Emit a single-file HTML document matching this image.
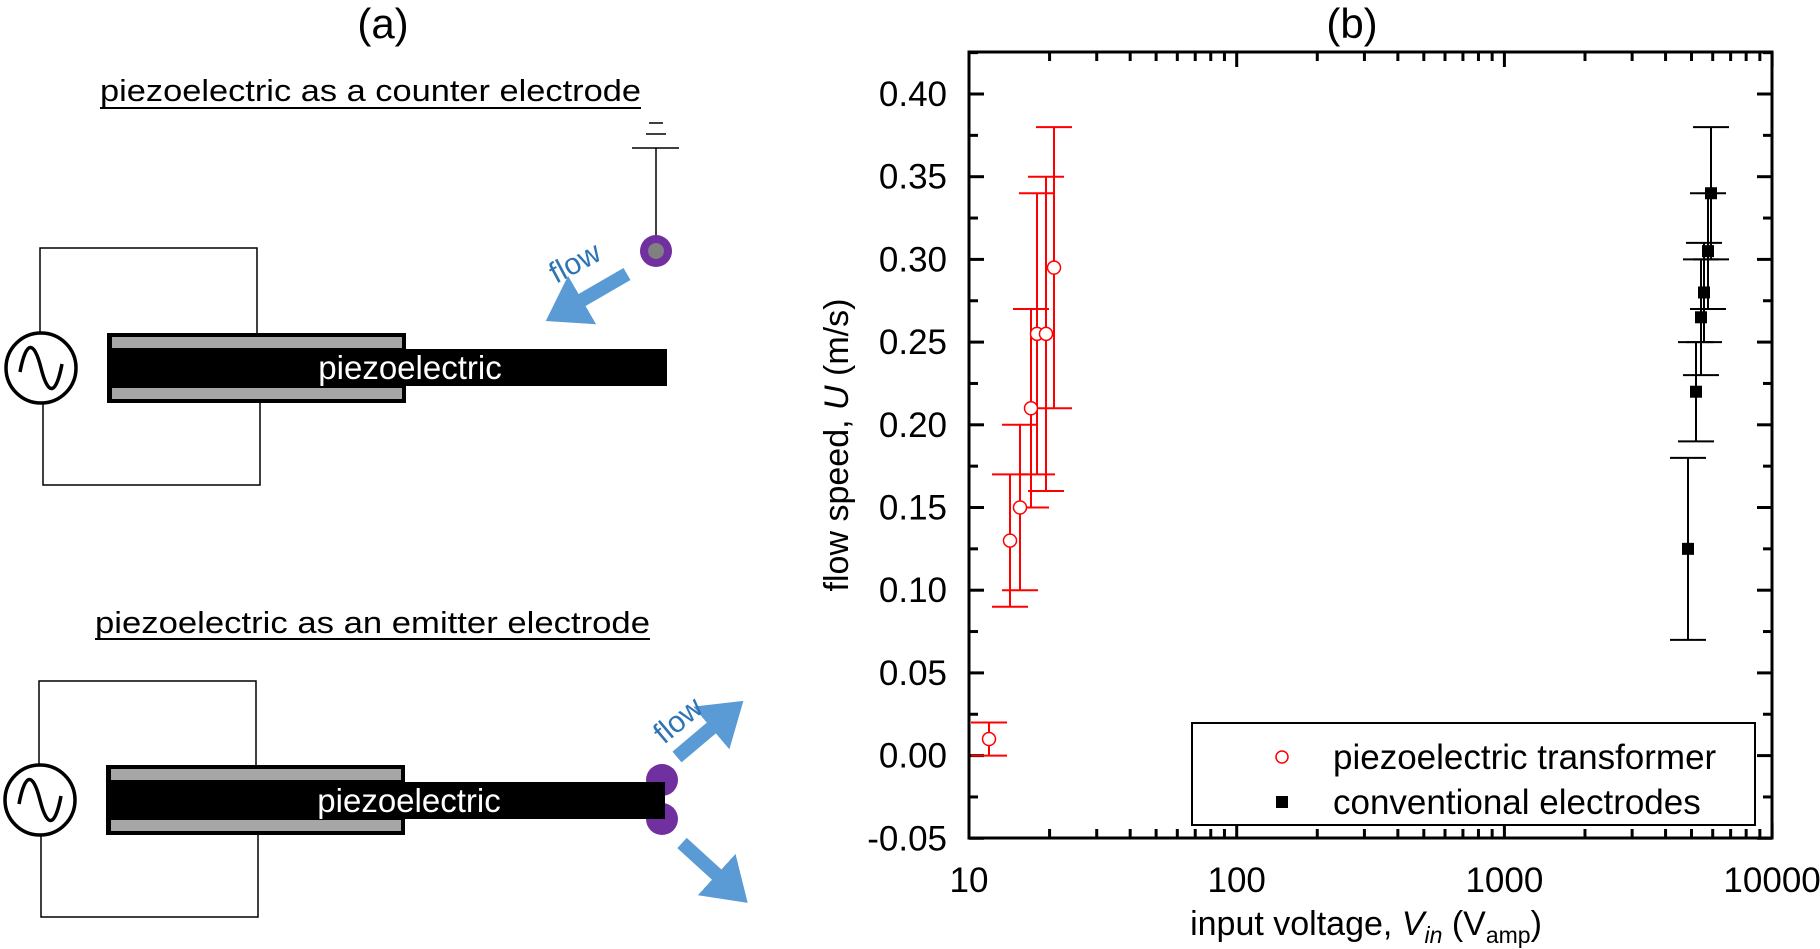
<!DOCTYPE html>
<html><head><meta charset="utf-8"><style>
html,body{margin:0;padding:0;background:#fff;}
svg{display:block;}
text{font-family:"Liberation Sans",sans-serif;}
</style></head><body>
<svg id="s" width="1820" height="949" viewBox="0 0 1820 949" xmlns="http://www.w3.org/2000/svg">
<defs>
<marker id="ah" markerWidth="4" markerHeight="4" refX="1" refY="2" orient="auto" markerUnits="strokeWidth"><path d="M0,0 L3,2 L0,4 Z" fill="#5b9bd5"/></marker>
</defs>
<!-- Panel a -->
<text x="383" y="38" font-size="42" text-anchor="middle">(a)</text>
<text x="100" y="101" font-size="31" textLength="541" lengthAdjust="spacingAndGlyphs">piezoelectric as a counter electrode</text>
<line x1="100" y1="108" x2="641" y2="108" stroke="#000" stroke-width="2"/>
<text x="95" y="633" font-size="31" textLength="555" lengthAdjust="spacingAndGlyphs">piezoelectric as an emitter electrode</text>
<line x1="95" y1="639" x2="650" y2="639" stroke="#000" stroke-width="2"/>

<g fill="none" stroke="#000" stroke-width="1.5">
<polyline points="40,333 40,248 257,248 257,333"/>
<polyline points="43,403 43,485 260,485 260,403"/>
<polyline points="39,765 39,681 256,681 256,765"/>
<polyline points="41,835 41,917 258,917 258,835"/>
</g>
<g fill="#fff" stroke="#000" stroke-width="3.5">
<circle cx="41" cy="368" r="35"/>
<circle cx="40" cy="800" r="35"/>
</g>
<g fill="none" stroke="#000" stroke-width="3.5">
<path d="M20,372 C26,340 34,340 41,368 C48,396 56,396 62,364"/>
<path d="M19,804 C25,772 33,772 40,800 C47,828 55,828 61,796"/>
</g>
<rect x="107" y="333" width="299" height="70" fill="#000"/>
<rect x="112" y="337" width="290" height="11" fill="#a6a6a6"/>
<rect x="112" y="388" width="290" height="11" fill="#a6a6a6"/>
<rect x="107" y="349" width="560" height="37" fill="#000"/>
<text x="410" y="379" font-size="33" fill="#fff" text-anchor="middle">piezoelectric</text>
<rect x="106" y="765" width="299" height="70" fill="#000"/>
<rect x="111" y="769" width="290" height="11" fill="#a6a6a6"/>
<rect x="111" y="820" width="290" height="11" fill="#a6a6a6"/>
<rect x="106" y="782" width="559" height="37" fill="#000"/>
<text x="409" y="812" font-size="33" fill="#fff" text-anchor="middle">piezoelectric</text>
<line x1="656" y1="148" x2="656" y2="238" stroke="#000" stroke-width="1.5"/>
<line x1="632" y1="148" x2="679" y2="148" stroke="#000" stroke-width="1.5"/>
<line x1="646" y1="134" x2="666" y2="134" stroke="#000" stroke-width="1.5"/>
<line x1="649" y1="123" x2="663" y2="123" stroke="#000" stroke-width="1.5"/>
<circle cx="656" cy="251" r="16" fill="#7030a0"/>
<circle cx="656" cy="251" r="8" fill="#808080"/>
<line x1="627" y1="274" x2="570" y2="307" stroke="#5b9bd5" stroke-width="14" marker-end="url(#ah)"/>
<text x="0" y="0" font-size="30" fill="#2e74b5" transform="translate(556,284) rotate(-28)">flow</text>
<circle cx="662" cy="780" r="16" fill="#7030a0"/>
<circle cx="662" cy="819" r="16" fill="#7030a0"/>
<rect x="640" y="782" width="25" height="37" fill="#000"/>
<line x1="677" y1="757" x2="722" y2="719" stroke="#5b9bd5" stroke-width="14" marker-end="url(#ah)"/>
<line x1="682" y1="843" x2="727" y2="884" stroke="#5b9bd5" stroke-width="14" marker-end="url(#ah)"/>
<text x="0" y="0" font-size="30" fill="#2e74b5" transform="translate(664,745) rotate(-40)">flow</text>

<!-- Panel b -->
<text x="1352" y="38" font-size="42" text-anchor="middle">(b)</text>
<g id="ax"></g>
<rect x="969" y="52" width="803" height="786" fill="none" stroke="#000" stroke-width="3"/>
<text x="0" y="0" font-size="34" text-anchor="middle" transform="translate(848,445) rotate(-90)">flow speed, <tspan font-style="italic">U</tspan> (m/s)</text>
<text x="1366" y="935" font-size="34" text-anchor="middle">input voltage, <tspan font-style="italic">V</tspan><tspan font-style="italic" font-size="23" dy="8">in</tspan><tspan dy="-8"> (V</tspan><tspan font-size="23" dy="8">amp</tspan><tspan dy="-8">)</tspan></text>
<rect x="1192" y="723" width="563" height="102" fill="#fff" stroke="#000" stroke-width="2"/>
<circle cx="1282" cy="757" r="6" fill="#fff" stroke="#f00" stroke-width="1.5"/>
<rect x="1276" y="796" width="12" height="12" fill="#000"/>
<text x="1333" y="769" font-size="35">piezoelectric transformer</text>
<text x="1333" y="814" font-size="35">conventional electrodes</text>
</svg>
<script>
var NS="http://www.w3.org/2000/svg",g=document.getElementById("ax");
function el(t,a,txt){var e=document.createElementNS(NS,t);for(var k in a)e.setAttribute(k,a[k]);if(txt!=null)e.textContent=txt;g.appendChild(e);return e;}
function X(v){return 969+Math.log10(v/10)*267.7;}
function Y(v){return 94+(0.40-v)*1654;}
var L=969,R=1772,T=52,B=838;
for(var i=-2;i<=17;i++){var v=i*0.025,y=Y(v);if(y>B+1||y<T-1)continue;var maj=(i%2==0),len=maj?15:9;
el("line",{x1:L,y1:y,x2:L+len,y2:y,stroke:"#000","stroke-width":3});
el("line",{x1:R,y1:y,x2:R-len,y2:y,stroke:"#000","stroke-width":3});
if(maj)el("text",{x:L-22,y:y+12,"font-size":35,"text-anchor":"end"},(v<0?"-":"")+Math.abs(v).toFixed(2));}
for(var d=10;d<=10000;d*=10){for(var m=1;m<10;m++){var v=d*m;if(v>10000)break;var x=X(v),maj=(m==1),len=maj?15:9;
el("line",{x1:x,y1:B,x2:x,y2:B-len,stroke:"#000","stroke-width":3});
el("line",{x1:x,y1:T,x2:x,y2:T+len,stroke:"#000","stroke-width":3});
if(maj)el("text",{x:x,y:B+54,"font-size":35,"text-anchor":"middle"},String(v));}}
function series(pts,col,sq){pts.forEach(function(p){var x=p[0],y1=Y(p[2]),y2=Y(p[3]);
el("line",{x1:x,y1:y1,x2:x,y2:y2,stroke:col,"stroke-width":2});
el("line",{x1:x-18,y1:y1,x2:x+18,y2:y1,stroke:col,"stroke-width":2});
el("line",{x1:x-18,y1:y2,x2:x+18,y2:y2,stroke:col,"stroke-width":2});});
pts.forEach(function(p){var x=p[0],y=Y(p[1]);
if(sq)el("rect",{x:x-6,y:y-6,width:12,height:12,fill:"#000"});
else el("circle",{cx:x,cy:y,r:6.5,fill:"#fff",stroke:"#f00","stroke-width":1.5});});}
series([[989,.01,0,.02],[1010,.13,.09,.17],[1020,.15,.10,.20],[1031,.21,.15,.27],[1037,.255,.17,.34],[1046,.255,.16,.35],[1054,.295,.21,.38]],"#f00",false);
series([[1688,.125,.07,.18],[1696,.22,.19,.25],[1701,.265,.23,.30],[1704,.28,.25,.31],[1708,.305,.27,.34],[1711,.34,.30,.38]],"#000",true);
</script>
</body></html>
